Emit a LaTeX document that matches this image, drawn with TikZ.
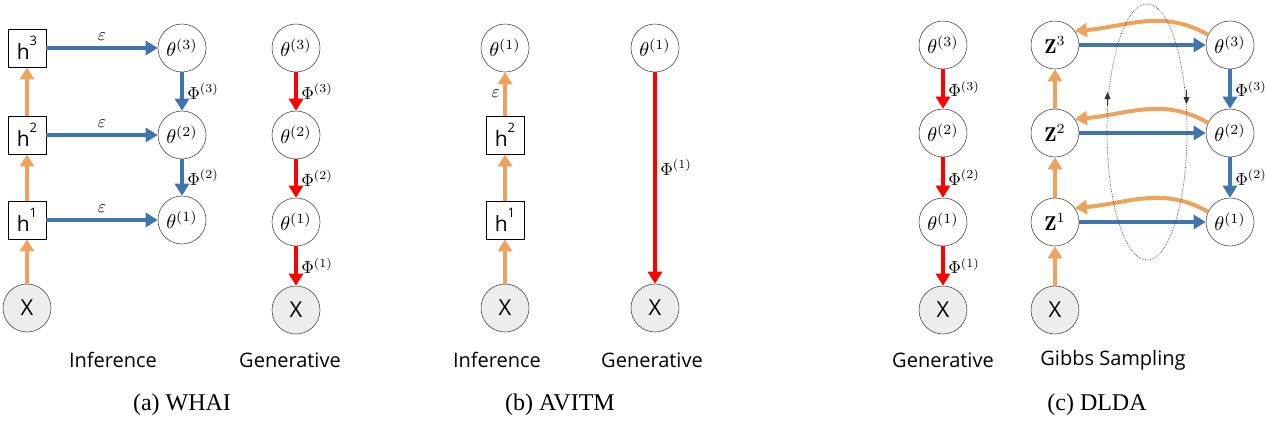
\documentclass[tikz,border=0pt]{standalone}
\usepackage{graphicx}
\usepackage{fontspec}
\newfontfamily\sanf{Open Sans}
\newfontfamily\capf{Liberation Serif}
\usetikzlibrary{arrows.meta,shapes.geometric}
\definecolor{bl}{RGB}{62,117,175}
\definecolor{orn}{RGB}{238,162,92}
\newcommand{\mbg}[1]{\scalebox{2}{$#1$}}
\newcommand{\mlb}[1]{\scalebox{1.75}{$#1$}}
\begin{document}
\begin{tikzpicture}[x=1pt,y=-1pt,
  cn/.style={circle,draw=black!70,line width=0.6pt,minimum size=48pt,inner sep=0pt},
  xn/.style={cn,fill=black!7,font=\sanf\fontsize{22}{22}\selectfont},
  bx/.style={rectangle,draw,line width=0.8pt,minimum size=38pt,inner sep=0pt,font=\sanf\fontsize{21}{21}\selectfont},
  ar/.style={line width=4pt,-{Triangle[length=12pt,width=14pt]}},
  ba/.style={ar,draw=bl},
  ra/.style={ar,draw=red},
  oa/.style={ar,draw=orn},
  lb/.style={},
  tx/.style={font=\sanf\fontsize{20}{20}\selectfont},
  cp/.style={font=\capf\fontsize{24}{24}\selectfont}]
\useasboundingbox (0,0) rectangle (1282,424);
% (a)
\node[bx] (ah3) at (27,48) {h\raisebox{1.2ex}{\fontsize{13}{13}\selectfont 3}};
\node[bx] (ah2) at (27,135) {h\raisebox{1.2ex}{\fontsize{13}{13}\selectfont 2}};
\node[bx] (ah1) at (27,220) {h\raisebox{1.2ex}{\fontsize{13}{13}\selectfont 1}};
\node[xn] (ax) at (27,308) {X};
\node[cn] (at3) at (182,48) {\mbg{\theta^{(3)}}};
\node[cn] (at2) at (182,135) {\mbg{\theta^{(2)}}};
\node[cn] (at1) at (182,220) {\mbg{\theta^{(1)}}};
\node[cn] (ag3) at (296,48) {\mbg{\theta^{(3)}}};
\node[cn] (ag2) at (296,135) {\mbg{\theta^{(2)}}};
\node[cn] (ag1) at (296,222) {\mbg{\theta^{(1)}}};
\node[xn] (agx) at (296,310) {X};
\draw[oa] (ax) -- (ah1); \draw[oa] (ah1) -- (ah2); \draw[oa] (ah2) -- (ah3);
\draw[ba] (ah3) -- node[above,yshift=2pt]{\mlb{\varepsilon}} (at3);
\draw[ba] (ah2) -- node[above,yshift=2pt]{\mlb{\varepsilon}} (at2);
\draw[ba] (ah1) -- node[above,yshift=2pt]{\mlb{\varepsilon}} (at1);
\draw[ba] (at3) -- node[right]{\mlb{\Phi^{(3)}}} (at2);
\draw[ba] (at2) -- node[right]{\mlb{\Phi^{(2)}}} (at1);
\draw[ra] (ag3) -- node[right]{\mlb{\Phi^{(3)}}} (ag2);
\draw[ra] (ag2) -- node[right]{\mlb{\Phi^{(2)}}} (ag1);
\draw[ra] (ag1) -- node[right]{\mlb{\Phi^{(1)}}} (agx);
\node[tx] (ta1) at (113,360) {Inference};
\node[tx] (ta2) at (290,360) {Generative};
\node[cp] (ca) at (182,405) {(a) WHAI};
% (b)
\node[cn] (bt1) at (505,48) {\mbg{\theta^{(1)}}};
\node[bx] (bh2) at (505,135) {h\raisebox{1.2ex}{\fontsize{13}{13}\selectfont 2}};
\node[bx] (bh1) at (505,220) {h\raisebox{1.2ex}{\fontsize{13}{13}\selectfont 1}};
\node[xn] (bx) at (505,308) {X};
\node[cn] (bg1) at (655,48) {\mbg{\theta^{(1)}}};
\node[xn] (bgx) at (655,308) {X};
\draw[oa] (bx) -- (bh1); \draw[oa] (bh1) -- (bh2);
\draw[oa] (bh2) -- node[left]{\mlb{\varepsilon}} (bt1);
\draw[ra] (bg1) -- node[right,pos=0.45]{\mlb{\Phi^{(1)}}} (bgx);
\node[tx] (tb1) at (497,360) {Inference};
\node[tx] (tb2) at (652,360) {Generative};
\node[cp] (cb) at (560,405) {(b) AVITM};
% (c)
\node[cn] (cg3) at (943,45) {\mbg{\theta^{(3)}}};
\node[cn] (cg2) at (943,133) {\mbg{\theta^{(2)}}};
\node[cn] (cg1) at (943,222) {\mbg{\theta^{(1)}}};
\node[xn] (cgx) at (943,310) {X};
\draw[ra] (cg3) -- node[right]{\mlb{\Phi^{(3)}}} (cg2);
\draw[ra] (cg2) -- node[right]{\mlb{\Phi^{(2)}}} (cg1);
\draw[ra] (cg1) -- node[right]{\mlb{\Phi^{(1)}}} (cgx);
\node[cn] (z3) at (1055,45) {\mbg{\mathbf{Z}^3}};
\node[cn] (z2) at (1055,133) {\mbg{\mathbf{Z}^2}};
\node[cn] (z1) at (1055,222) {\mbg{\mathbf{Z}^1}};
\node[xn] (zx) at (1055,310) {X};
\node[cn] (ct3) at (1230,45) {\mbg{\theta^{(3)}}};
\node[cn] (ct2) at (1230,133) {\mbg{\theta^{(2)}}};
\node[cn] (ct1) at (1230,222) {\mbg{\theta^{(1)}}};
\draw[oa] (zx) -- (z1); \draw[oa] (z1) -- (z2); \draw[oa] (z2) -- (z3);
\foreach \i in {1,2,3}{
  \draw[ba] (z\i.east) -- (ct\i.west);
  \draw[oa] (ct\i.155) to[out=150,in=5] (z\i.35);
}
\draw[ba] (ct3) -- node[right]{\mlb{\Phi^{(3)}}} (ct2);
\draw[ba] (ct2) -- node[right]{\mlb{\Phi^{(2)}}} (ct1);
\node[ellipse,draw=black!70,densely dotted,line width=0.7pt,minimum width=80pt,minimum height=256pt] (el) at (1147,132) {};
\draw[black!80,-{Triangle[length=7pt,width=6pt]}] (1107.5,106) -- (1107.5,92);
\draw[black!80,-{Triangle[length=7pt,width=6pt]}] (1186.5,90) -- (1186.5,104);
\node[tx] (tc1) at (943,360) {Generative};
\node[tx] (tc2) at (1113,360) {Gibbs Sampling};
\node[cp] (cc) at (1097,405) {(c) DLDA};
\end{tikzpicture}
\end{document}
